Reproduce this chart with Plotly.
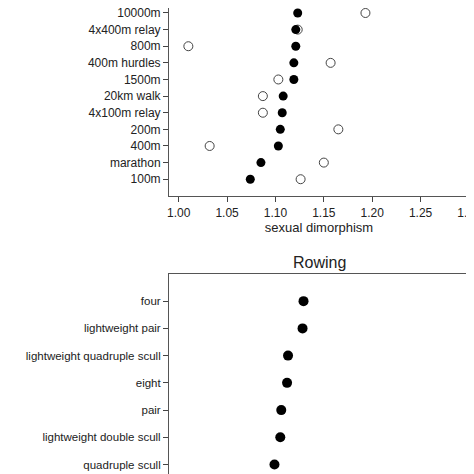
import plotly.graph_objects as go

# athletics
events = ["100m", "marathon", "400m", "200m", "4x100m relay", "20km walk",
          "1500m", "400m hurdles", "800m", "4x400m relay", "10000m"]
filled_vals = [1.074, 1.085, 1.103, 1.105, 1.107, 1.108, 1.119, 1.119, 1.121, 1.121, 1.123]
open_vals = [1.126, 1.150, 1.032, 1.165, 1.087, 1.087, 1.103, 1.157, 1.010, 1.123, 1.193]

# rowing
boats = ["quadruple scull", "lightweight double scull", "pair", "eight",
         "lightweight quadruple scull", "lightweight pair", "four"]
rowing_vals = [1.099, 1.105, 1.106, 1.112, 1.113, 1.128, 1.129]

xticks = [1.00, 1.05, 1.10, 1.15, 1.20, 1.25, 1.30]

fig = go.Figure()
fig.add_trace(go.Scatter(x=open_vals, y=events, mode="markers", xaxis="x", yaxis="y",
                         marker=dict(size=9, color="white", line=dict(color="#444", width=1))))
fig.add_trace(go.Scatter(x=filled_vals, y=events, mode="markers", xaxis="x", yaxis="y",
                         marker=dict(size=9, color="black")))
fig.add_trace(go.Scatter(x=rowing_vals, y=boats, mode="markers", xaxis="x2", yaxis="y2",
                         marker=dict(size=10, color="black")))

font = dict(family="Liberation Sans, Arial", size=12, color="#222")
ax = dict(range=[0.99, 1.30], showgrid=False, zeroline=False, linecolor="#555", linewidth=1,
          automargin=False)

fig.update_layout(
    width=474, height=474, showlegend=False,
    margin=dict(l=161, r=13, t=0, b=0, autoexpand=False),
    paper_bgcolor="white", plot_bgcolor="white", font=font,
    xaxis=dict(**ax, domain=[0, 1], anchor="y", showline=True, ticks="outside", ticklen=5,
               tickvals=xticks, ticktext=[f"{v:.2f}" for v in xticks],
               title=dict(text="sexual dimorphism", standoff=4, font=dict(size=13))),
    yaxis=dict(domain=[0.603, 1], range=[-1.02, 10.3], showline=True, mirror=True,
               linecolor="#555", ticks="outside", ticklen=5, showgrid=False, automargin=False,
               categoryorder="array", categoryarray=events, anchor="x"),
    xaxis2=dict(**ax, domain=[0, 1], anchor="y2", side="top", showline=True,
                showticklabels=False, ticks=""),
    yaxis2=dict(domain=[0, 0.439], range=[-0.64, 7.0], showline=True, mirror=True,
                linecolor="#555", ticks="outside", ticklen=5, showgrid=False, automargin=False,
                categoryorder="array", categoryarray=boats, anchor="x2",
                tickfont=dict(size=11.5)),
    annotations=[dict(text="Rowing", x=0.5, xref="paper", y=(474 - 254) / 474, yref="paper",
                      showarrow=False, font=dict(size=16, color="#222"))],
)

fig.write_html("out.html")
